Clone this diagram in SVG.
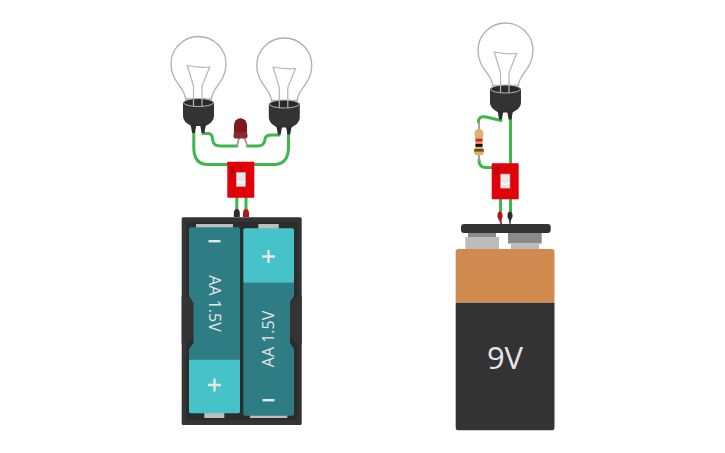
<svg xmlns="http://www.w3.org/2000/svg" width="725" height="453" viewBox="0 0 725 453">
<style>
.w{fill:none;stroke:#3fb54a;stroke-width:3;stroke-linecap:round;stroke-linejoin:round}
.lead{fill:none;stroke:#9a9a9a;stroke-width:1.8}
.glass{fill:#fff;stroke:#b0b0b0;stroke-width:1.3}
.fil{fill:none;stroke:#b5b5b5;stroke-width:1.2}
.dark{fill:#333}
.tealD{fill:#2f7d84}
.tealL{fill:#45c3c8}
.metal{fill:#bdbdbd}
.sw{fill:#e2000a}
.lev{fill:#e6e6e6;stroke:#b8b8b8;stroke-width:.6}
.t{font-family:"Open Sans","Noto Sans",sans-serif;fill:#e6e6e6}
.sm{font-family:"Liberation Sans",sans-serif;font-size:5px;fill:#5a0006}
.pinK{fill:#2d2d2d}
.pinR{fill:#b5131a}
</style>
<defs>
<g id="bulb">
<path class="glass" d="M-13,63 C-13,52 -27.5,46 -27.5,28 A27.5,27.5 0 1 1 27.5,28 C27.5,46 13,52 13,63 Z"/>
<path class="fil" d="M-5,70 V50 L-11.2,29.5 Q0,32 11.2,31 L3.5,50 V70"/>
<path class="dark" d="M-15.5,66 H15.5 V80 Q15.5,86 7,90 H-7 Q-15.5,86 -15.5,80 Z"/>
<ellipse cx="0" cy="66.5" rx="15" ry="4" fill="#2a2a2a" stroke="#c4c4c4" stroke-width=".9"/>
<path class="fil" d="M-5,62 V70.5 M3.5,62 V70.5"/>
<path class="pinK" d="M-8,88 H-2 L-3.6,97 H-6.4 Z M1.5,88 H7.5 L5.9,97 H3.1 Z"/>
</g>
<g id="switch">
<rect class="sw" x="0" y="0" width="27" height="36" rx=".6"/>
<rect class="lev" x="9" y="10.8" width="9.2" height="14"/>
<path d="M10,19.5 Q13.6,22.5 17.2,19.5" fill="none" stroke="#fff" stroke-width="1.2"/>
<path d="M4.3,13 V23" stroke="#a00008" stroke-width=".5" fill="none"/>
<text class="sm" transform="translate(2.6,3.8) rotate(90)">ON</text>
<text class="sm" x="12" y="8">1</text>
</g>
</defs>

<g id="connectors">
<path class="w" d="M193.8,131 V148 Q194,164.5 208,164.5 H229"/>
<path class="w" d="M203,133.5 H208 Q212.5,133.5 212.7,140 Q213,146 221,146 H237"/>
<path class="w" d="M247.5,146 H258 Q264.5,146 265,139 Q265.5,135 272,135 H279"/>
<path class="w" d="M288.5,131 V148 Q288,164.5 274,164.5 H253"/>
<path class="w" d="M236.8,197 V210 M246,197 V210"/>
<path class="w" d="M501,120.5 L485,116.8 Q478.5,116 478.5,122"/>
<path class="w" d="M510.5,116 V164"/>
<path class="w" d="M479,160 Q479,167.5 486,167.5 H492"/>
<path class="w" d="M500.5,198 V212 M510.5,198 V212"/>
</g>

<g id="bulb1"><use href="#bulb" x="198.5" y="36"/></g>
<g id="bulb2"><use href="#bulb" x="284.3" y="37.5"/></g>
<g id="bulb3"><use href="#bulb" x="505.5" y="22.5"/></g>

<g id="led">
<path class="lead" d="M237,146 L239.3,137 M247.5,146 L244,137"/>
<path fill="#7e1a1c" d="M234,125 A6.5,6.7 0 0 1 247,125 V135 H234 Z"/>
<rect x="233.5" y="132.5" width="14" height="6" rx="2" fill="#8e2a2c"/>
</g>

<g id="switch1"><use href="#switch" x="227.3" y="161.7"/></g>

<g id="battery-holder">
<rect x="181.7" y="217.3" width="120" height="207.7" rx="1.5" fill="#343434"/>
<rect x="186" y="222" width="111.5" height="198" fill="#2c2c2c"/>
<rect class="metal" x="196" y="224" width="37" height="4"/>
<rect class="metal" x="258.3" y="224" width="20.4" height="5"/>
<rect class="metal" x="204.3" y="412" width="20" height="6"/>
<rect class="metal" x="250" y="414" width="37.3" height="4"/>
<path fill="#343434" d="M181.7,296 H186 L193.5,303 V337 L186,344 H181.7 Z M301.7,296 H297.5 L290,303 V337 L297.5,344 H301.7 Z"/>
<g id="battery-left">
<path class="tealD" d="M191,227.3 H238 Q240,227.3 240,229.3 V359.5 H189 V349 L193.5,343 V303 L189,296 V229.3 Q189,227.3 191,227.3 Z"/>
<path class="tealL" d="M189,359.5 H240 V411.3 Q240,413.3 238,413.3 H191 Q189,413.3 189,411.3 Z"/>
<rect x="208.5" y="240" width="12" height="2.4" fill="#e6e6e6"/>
<path d="M214.5,378.5 V391.5 M208,385 H221" stroke="#e6e6e6" stroke-width="2.4" fill="none"/>
<text class="t" font-size="16" text-anchor="middle" transform="translate(209,303.5) rotate(90)">AA 1.5V</text>
</g>
<g id="battery-right">
<path class="tealD" d="M243.3,282.7 H294 V296 L290,302 V343 L294,349 V413.7 Q294,415.7 292,415.7 H245.3 Q243.3,415.7 243.3,413.7 Z"/>
<path class="tealL" d="M245.3,228.3 H292 Q294,228.3 294,230.3 V282.7 H243.3 V230.3 Q243.3,228.3 245.3,228.3 Z"/>
<path d="M268.5,250 V263 M262,256.5 H275" stroke="#e6e6e6" stroke-width="2.4" fill="none"/>
<rect x="262.5" y="399" width="12" height="2.4" fill="#e6e6e6"/>
<text class="t" font-size="16" text-anchor="middle" transform="translate(274,339) rotate(-90)">AA 1.5V</text>
</g>
</g>
<g id="holder-pins">
<path class="pinK" d="M233.8,217 V213 Q234,209 236.8,209 Q239.5,209 239.8,213 V217 Z"/>
<path class="pinR" d="M243,217 V213 Q243.2,209 246,209 Q248.8,209 249,213 V217 Z"/>
</g>

<g id="resistor">
<path class="lead" d="M479,122 V130 M479,155 V161"/>
<path fill="#d9b26f" d="M474.5,133 Q475,129 479,129 Q483,129 483.5,133 Q483.5,136 482.5,138 V147 Q484,149 484,152 Q484,155.5 479,155.5 Q474,155.5 474,152 Q474,149 475.5,147 V138 Q474.5,136 474.5,133 Z"/>
<rect x="475.5" y="138.6" width="7" height="3" fill="#ee1c25"/>
<rect x="475.5" y="143.8" width="7" height="3" fill="#111"/>
<rect x="474.2" y="149" width="9.6" height="2.6" fill="#7a4a1c"/>
</g>

<g id="switch2"><use href="#switch" x="491.7" y="163.3"/></g>

<g id="battery-9v">
<path class="pinR" d="M497.5,214 Q498,211.5 500,211.5 Q502,211.5 502.5,214 V217 L501.5,220 L502,224 H500.5 L499,220 L497.5,217 Z"/>
<path class="pinK" d="M507.5,214 Q508,211.5 510,211.5 Q512,211.5 512.5,214 V217 L511,220 L510.5,224 H509.5 L509,220 L507.5,217 Z"/>
<rect x="468" y="232" width="28" height="6" fill="#8a8a8a"/>
<rect x="465.3" y="237" width="33.7" height="13" fill="#bcbcbc"/>
<rect x="508" y="232" width="33.7" height="11.5" fill="#8a8a8a"/>
<rect x="510.7" y="243.5" width="28.6" height="6.5" fill="#bcbcbc"/>
<rect x="461" y="224" width="89.7" height="9" rx="3" class="dark"/>
<path d="M458,249 H552 Q554.5,249 554.5,251.5 V302.7 H455.7 V251.5 Q455.7,249 458,249 Z" fill="#d08c50"/>
<path class="dark" d="M455.7,302.7 H554.5 V428 Q554.5,430.3 552,430.3 H458 Q455.7,430.3 455.7,428 Z"/>
<text class="t" x="505" y="368.500" font-size="31" text-anchor="middle">9V</text>
</g>
</svg>
